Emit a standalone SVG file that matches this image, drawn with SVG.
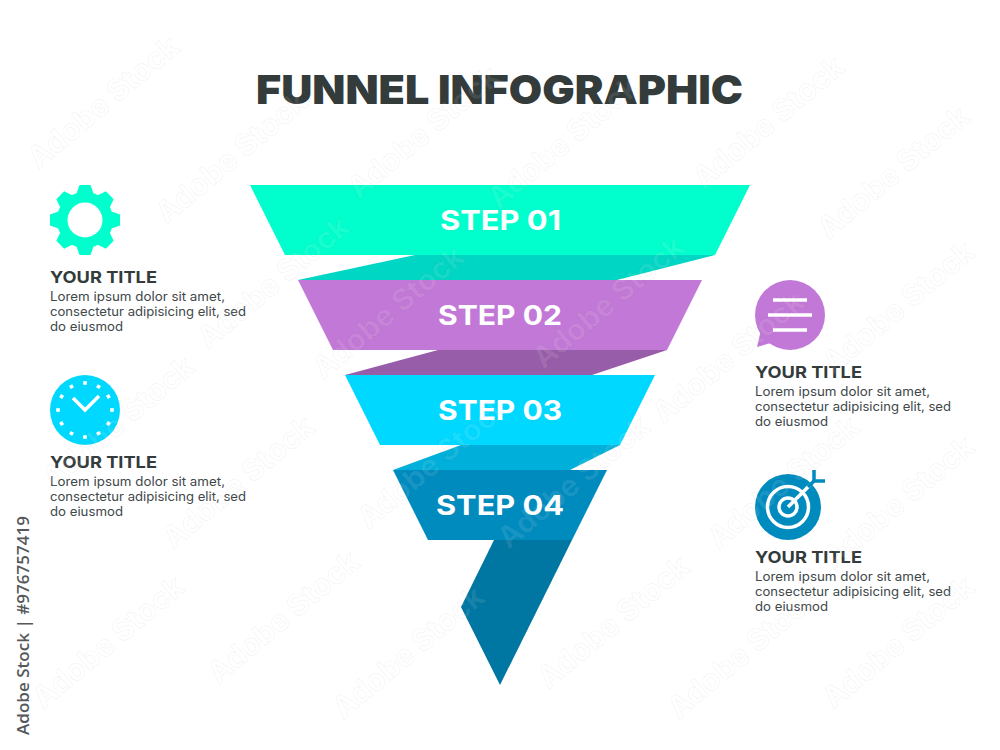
<svg xmlns="http://www.w3.org/2000/svg" xmlns:xlink="http://www.w3.org/1999/xlink" width="1000" height="750" viewBox="0 0 1000 750">
<style>
text{font-family:"Inter","Noto Sans","Liberation Sans",sans-serif}
.h{font-weight:900;font-size:40px;fill:#333b3b}
.s{font-weight:700;font-size:27.5px;fill:#fff}
.t{font-weight:700;font-size:16.5px;fill:#333b3b}
.b{font-weight:400;font-size:12.5px;fill:#41484a}
.w{font-weight:700;font-size:30px;fill:#fff;fill-opacity:.1;stroke:#000;stroke-opacity:.035;stroke-width:1.5}
.id{font-family:"Open Sans","Noto Sans",sans-serif;font-weight:600;font-size:17px;fill:#55595b}
.l{fill:none;stroke:#fff;stroke-width:3.5}
</style>
<defs>
<polygon id="tooth" points="-5.5,-35 5.5,-35 9,-25 -9,-25" fill="#00ffcc"/>
<rect id="dot" x="-1.8" y="-28.8" width="3.6" height="3.6" fill="#fff"/>
</defs>
<rect width="1000" height="750" fill="#fff"/>
<g id="funnel-folds">
<polygon points="415,255 715,255 617,280 298,280" fill="#00d6c4"/>
<polygon points="438,350 667,350 592,375 345,375" fill="#985da8"/>
<polygon points="461,445 620,445 570,470 393,470" fill="#00b0da"/>
<polygon points="494,540 572,540 500,685 461,607" fill="#0077a3"/>
</g>
<g id="step-01"><polygon points="250,185 750,185 715,255 285,255" fill="#00ffcc"/><text class="s" x="440" y="230" textLength="121" lengthAdjust="spacingAndGlyphs">STEP 01</text></g>
<g id="step-02"><polygon points="298,280 702,280 667,350 333,350" fill="#c278d6"/><text class="s" x="438" y="325" textLength="124" lengthAdjust="spacingAndGlyphs">STEP 02</text></g>
<g id="step-03"><polygon points="345,375 655,375 620,445 380,445" fill="#00d8ff"/><text class="s" x="438" y="420" textLength="124" lengthAdjust="spacingAndGlyphs">STEP 03</text></g>
<g id="step-04"><polygon points="393,470 607,470 572,540 428,540" fill="#008bbf"/><text class="s" x="436" y="515" textLength="128" lengthAdjust="spacingAndGlyphs">STEP 04</text></g>
<text class="h" x="256" y="104" textLength="487" lengthAdjust="spacingAndGlyphs">FUNNEL INFOGRAPHIC</text>
<g id="item-gear">
<g transform="translate(85 220)">
<circle r="22.75" fill="none" stroke="#00ffcc" stroke-width="10.5"/>
<use href="#tooth"/><use href="#tooth" transform="rotate(45)"/><use href="#tooth" transform="rotate(90)"/><use href="#tooth" transform="rotate(135)"/><use href="#tooth" transform="rotate(180)"/><use href="#tooth" transform="rotate(225)"/><use href="#tooth" transform="rotate(270)"/><use href="#tooth" transform="rotate(315)"/>
</g>
<text class="t" x="50" y="283" textLength="107" lengthAdjust="spacingAndGlyphs">YOUR TITLE</text>
<text class="b" x="50" y="301" textLength="175" lengthAdjust="spacingAndGlyphs">Lorem ipsum dolor sit amet,</text>
<text class="b" x="50" y="316" textLength="196" lengthAdjust="spacingAndGlyphs">consectetur adipisicing elit, sed</text>
<text class="b" x="50" y="331" textLength="73" lengthAdjust="spacingAndGlyphs">do eiusmod</text>
</g>
<g id="item-clock">
<circle cx="85" cy="410" r="35" fill="#00d8ff"/>
<g transform="translate(85 410)">
<use href="#dot"/><use href="#dot" transform="rotate(30)"/><use href="#dot" transform="rotate(60)"/><use href="#dot" transform="rotate(90)"/><use href="#dot" transform="rotate(120)"/><use href="#dot" transform="rotate(150)"/><use href="#dot" transform="rotate(180)"/><use href="#dot" transform="rotate(210)"/><use href="#dot" transform="rotate(240)"/><use href="#dot" transform="rotate(270)"/><use href="#dot" transform="rotate(300)"/><use href="#dot" transform="rotate(330)"/>
</g>
<polyline class="l" points="73,398 85,410 99,396"/>
<text class="t" x="50" y="468" textLength="107" lengthAdjust="spacingAndGlyphs">YOUR TITLE</text>
<text class="b" x="50" y="486" textLength="175" lengthAdjust="spacingAndGlyphs">Lorem ipsum dolor sit amet,</text>
<text class="b" x="50" y="501" textLength="196" lengthAdjust="spacingAndGlyphs">consectetur adipisicing elit, sed</text>
<text class="b" x="50" y="516" textLength="73" lengthAdjust="spacingAndGlyphs">do eiusmod</text>
</g>
<g id="item-chat">
<circle cx="790" cy="315" r="35" fill="#c278d6"/>
<polygon points="761,330 757,347 778,341" fill="#c278d6"/>
<path class="l" d="M773 300H807M768 315H812M773 330H807"/>
<text class="t" x="755" y="378" textLength="107" lengthAdjust="spacingAndGlyphs">YOUR TITLE</text>
<text class="b" x="755" y="396" textLength="175" lengthAdjust="spacingAndGlyphs">Lorem ipsum dolor sit amet,</text>
<text class="b" x="755" y="411" textLength="196" lengthAdjust="spacingAndGlyphs">consectetur adipisicing elit, sed</text>
<text class="b" x="755" y="426" textLength="73" lengthAdjust="spacingAndGlyphs">do eiusmod</text>
</g>
<g id="item-target">
<circle cx="788" cy="507" r="33" fill="#008bbf"/>
<circle class="l" cx="788" cy="507" r="20.5"/>
<circle class="l" cx="788" cy="507" r="9"/>
<path class="l" d="M788 507L810 485"/>
<path d="M814 470V481H825" fill="none" stroke="#008bbf" stroke-width="3.5"/>
<path d="M808 487L814 481" fill="none" stroke="#008bbf" stroke-width="3.5"/>
<text class="t" x="755" y="563" textLength="107" lengthAdjust="spacingAndGlyphs">YOUR TITLE</text>
<text class="b" x="755" y="581" textLength="175" lengthAdjust="spacingAndGlyphs">Lorem ipsum dolor sit amet,</text>
<text class="b" x="755" y="596" textLength="196" lengthAdjust="spacingAndGlyphs">consectetur adipisicing elit, sed</text>
<text class="b" x="755" y="611" textLength="73" lengthAdjust="spacingAndGlyphs">do eiusmod</text>
</g>
<text class="id" transform="translate(29 735) rotate(-90)" textLength="219" lengthAdjust="spacingAndGlyphs">Adobe Stock | #976757419</text>
<g id="watermark" text-anchor="middle">
<text class="w" transform="translate(110 110) rotate(-40)">Adobe Stock</text>
<text class="w" transform="translate(238 165) rotate(-40)">Adobe Stock</text>
<text class="w" transform="translate(430 140) rotate(-40)">Adobe Stock</text>
<text class="w" transform="translate(570 150) rotate(-40)">Adobe Stock</text>
<text class="w" transform="translate(775 130) rotate(-40)">Adobe Stock</text>
<text class="w" transform="translate(900 180) rotate(-40)">Adobe Stock</text>
<text class="w" transform="translate(280 290) rotate(-40)">Adobe Stock</text>
<text class="w" transform="translate(395 320) rotate(-40)">Adobe Stock</text>
<text class="w" transform="translate(615 310) rotate(-40)">Adobe Stock</text>
<text class="w" transform="translate(905 315) rotate(-40)">Adobe Stock</text>
<text class="w" transform="translate(735 365) rotate(-40)">Adobe Stock</text>
<text class="w" transform="translate(125 430) rotate(-40)">Adobe Stock</text>
<text class="w" transform="translate(245 490) rotate(-40)">Adobe Stock</text>
<text class="w" transform="translate(440 470) rotate(-40)">Adobe Stock</text>
<text class="w" transform="translate(580 490) rotate(-40)">Adobe Stock</text>
<text class="w" transform="translate(790 490) rotate(-40)">Adobe Stock</text>
<text class="w" transform="translate(905 510) rotate(-40)">Adobe Stock</text>
<text class="w" transform="translate(115 650) rotate(-40)">Adobe Stock</text>
<text class="w" transform="translate(290 625) rotate(-40)">Adobe Stock</text>
<text class="w" transform="translate(415 660) rotate(-40)">Adobe Stock</text>
<text class="w" transform="translate(620 630) rotate(-40)">Adobe Stock</text>
<text class="w" transform="translate(750 660) rotate(-40)">Adobe Stock</text>
<text class="w" transform="translate(905 650) rotate(-40)">Adobe Stock</text>
</g>
</svg>
